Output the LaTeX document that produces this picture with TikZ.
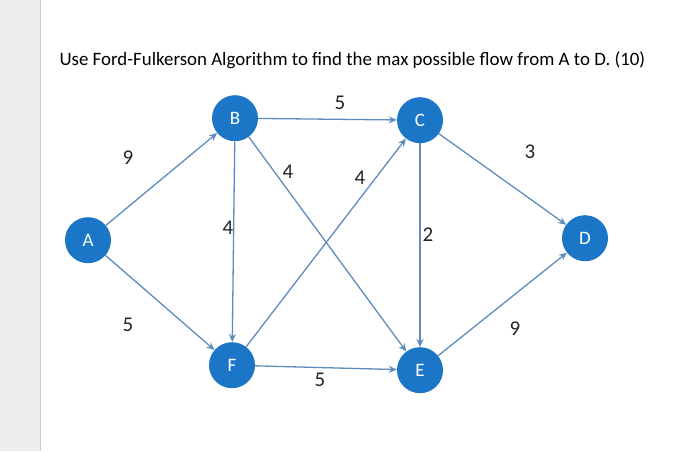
\documentclass[tikz,border=0pt]{standalone}
\usepackage{fontspec}
\setmainfont{Carlito}
\definecolor{nodeblue}{RGB}{28,118,200}
\definecolor{edgec}{RGB}{95,140,190}
\usetikzlibrary{arrows.meta}
\begin{document}
\begin{tikzpicture}[x=1pt,y=-1pt,
  vert/.style={circle,fill=nodeblue,text=white,minimum size=46pt,inner sep=0pt,font=\fontsize{19}{21}\selectfont},
  edge/.style={draw=edgec,line width=1.3pt,-{Stealth[length=8pt,width=7pt]}},
  wt/.style={font=\fontsize{21}{23}\selectfont,text=black!85}]
\fill[black!7] (0,0) rectangle (700,451);
\fill[white] (40,0) rectangle (700,451);
\draw[black!20] (40,0) -- (40,451);
\useasboundingbox (0,0) rectangle (700,451);
\node[font=\fontsize{18.9}{22}\selectfont,anchor=west] (t) at (56,60) {Use Ford-Fulkerson Algorithm to find the max possible flow from A to D. (10)};
\node[vert] (A) at (88,240) {A};
\node[vert] (B) at (235,118) {B};
\node[vert] (C) at (420,120) {C};
\node[vert] (D) at (585,238) {D};
\node[vert] (F) at (232,365) {F};
\node[vert] (E) at (420,370) {E};
\draw[edge] (A) -- (B);
\draw[edge] (A) -- (F);
\draw[edge] (B) -- (C);
\draw[edge] (B) -- (F);
\draw[edge] (B) -- (E);
\draw[edge] (F) -- (C);
\draw[edge] (C) -- (E);
\draw[edge] (C) -- (D);
\draw[edge] (F) -- (E);
\draw[edge] (E) -- (D);
\node[wt] (w1) at (128,157) {9};
\node[wt] (w2) at (340,103) {5};
\node[wt] (w3) at (530,152) {3};
\node[wt] (w4) at (288,172) {4};
\node[wt] (w5) at (360,178) {4};
\node[wt] (w6) at (228,228) {4};
\node[wt] (w7) at (428,234) {2};
\node[wt] (w8) at (128,325) {5};
\node[wt] (w9) at (515,328) {9};
\node[wt] (w10) at (320,380) {5};
\end{tikzpicture}
\end{document}
